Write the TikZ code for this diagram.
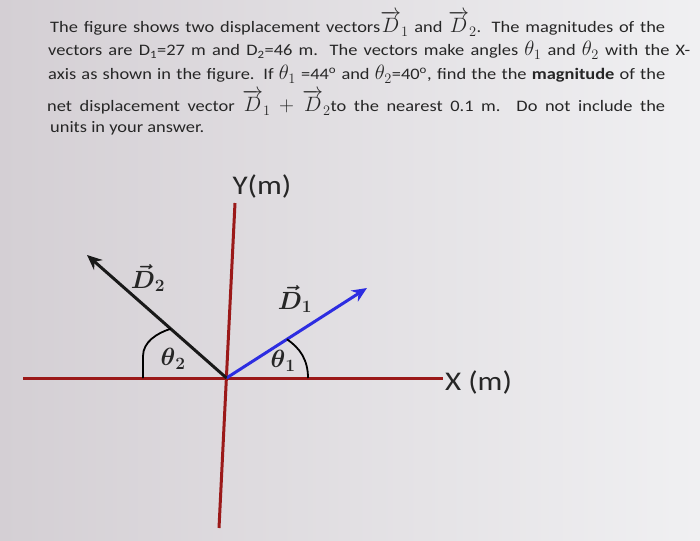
\documentclass[tikz,border=0pt]{standalone}
\usepackage[no-math]{fontspec}
\setmainfont{Carlito}[FakeStretch=1.15]
\usepackage{amsmath}
\usetikzlibrary{arrows.meta,calc}
\definecolor{axisred}{RGB}{155,25,25}
\definecolor{vecblue}{RGB}{45,45,225}
\definecolor{bgl}{RGB}{212,207,212}
\definecolor{bgr}{RGB}{240,240,242}
\newcommand{\vD}{\overrightarrow{D}}
\newcommand{\mth}{\fontsize{20}{20}\selectfont}
\tikzset{
  txt/.style={anchor=base west, inner sep=0pt, font=\fontsize{16}{16}\selectfont, text=black!85},
  axisline/.style={draw=axisred, line width=3pt},
  vecline/.style={line width=3pt, -{Stealth[length=15pt,width=13pt]}},
  arcline/.style={line width=1.8pt},
  lbl/.style={font=\fontsize{25}{25}\selectfont, inner sep=0pt, text=black!85},
  axlbl/.style={font=\fontsize{27}{27}\selectfont, inner sep=0pt, text=black!85},
}
\begin{document}
\begin{tikzpicture}[x=1pt,y=-1pt]
\path[use as bounding box] (0,0) rectangle (700,540);
\shade[left color=bgl, right color=bgr] (0,0) rectangle (700,540);

% question text
\node[txt] (l1) at (50,33) {\makebox[615pt][s]{The figure shows two displacement vectors{\mth$\vD_1$} and {\mth$\vD_2$}. The magnitudes of the}};
\node[txt] (l2) at (48,56) {\makebox[642pt][s]{vectors are D\textsubscript{1}=27 m and D\textsubscript{2}=46 m. The vectors make angles {\mth$\theta_1$} and {\mth$\theta_2$} with the X-}};
\node[txt] (l3) at (48,80) {\makebox[617pt][s]{axis as shown in the figure. If {\mth$\theta_1$} =44\textsuperscript{o} and {\mth$\theta_2$}=40\textsuperscript{o}, find the the \textbf{magnitude} of the}};
\node[txt] (l4) at (47,112) {\makebox[618pt][s]{net displacement vector {\mth$\vD_1 + \vD_2$}to the nearest 0.1 m. Do not include the}};
\node[txt] (l5) at (50,132) {units in your answer.};

% axes
\coordinate (O) at (226.5,378);
\coordinate (xl) at (23,378);
\coordinate (xr) at (443,378);
\coordinate (yt) at (235,203);
\coordinate (yb) at (219,528);
\draw[axisline] (xl) -- (xr);
\draw[axisline] (yt) -- (yb);

\node[axlbl, anchor=center] (ylab) at (262,186) {Y(m)};
\node[axlbl, anchor=west] (xlab) at (445,382) {X (m)};

% vectors
\coordinate (D1tip) at (367,288);
\coordinate (D2tip) at (87,255);
\draw[vecline, draw=vecblue] (O) -- (D1tip);
\draw[vecline, draw=black!90] (O) -- (D2tip);

% angle arcs
\coordinate (a1s) at ($(O)!0.43!(D1tip)$);
\coordinate (a2s) at ($(O)!0.40!(D2tip)$);
\draw[arcline] (a1s) .. controls (300,348) and (308,360) .. (308,378);
\draw[arcline] (a2s) .. controls (157,333) and (143,342) .. (143,356) -- (143,378);

% labels
\node[lbl] (d2lab) at (148,278) {$\boldsymbol{\vec{D}}_{\boldsymbol{2}}$};
\node[lbl] (d1lab) at (295,299) {$\boldsymbol{\vec{D}}_{\boldsymbol{1}}$};
\node[lbl] (t2lab) at (173,359) {$\boldsymbol{\theta}_{\boldsymbol{2}}$};
\node[lbl] (t1lab) at (283,361) {$\boldsymbol{\theta}_{\boldsymbol{1}}$};
\end{tikzpicture}
\end{document}
